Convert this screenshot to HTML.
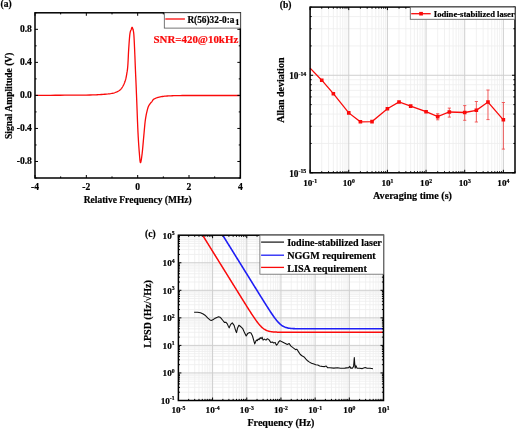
<!DOCTYPE html><html><head><meta charset="utf-8"><style>html,body{margin:0;padding:0;background:#fff;overflow:hidden}svg{display:block}text{stroke:#000;stroke-width:0.2px}</style></head><body><svg width="516" height="429" viewBox="0 0 516 429">
<rect width="516" height="429" fill="#fff"/>
<path d="M35.5,95.3 L38.1,95.3 L41.65,95.29 L45.88,95.29 L50.52,95.28 L55.31,95.27 L60,95.25 L64.92,95.22 L70.34,95.19 L75.92,95.15 L81.3,95.1 L86.11,95.05 L90,95 L92.79,94.95 L94.74,94.89 L96.12,94.83 L97.22,94.77 L98.32,94.69 L99.7,94.6 L101.36,94.5 L103.08,94.38 L104.79,94.26 L106.46,94.12 L108.01,93.97 L109.4,93.8 L110.6,93.63 L111.66,93.45 L112.61,93.26 L113.49,93.04 L114.34,92.79 L115.2,92.5 L116.08,92.17 L116.94,91.8 L117.78,91.41 L118.58,90.97 L119.32,90.51 L120,90 L120.6,89.47 L121.12,88.91 L121.59,88.31 L122.03,87.67 L122.46,86.97 L122.9,86.2 L123.35,85.35 L123.8,84.42 L124.24,83.43 L124.66,82.4 L125.05,81.35 L125.4,80.3 L125.7,79.24 L125.96,78.17 L126.19,77.07 L126.4,75.94 L126.6,74.79 L126.8,73.6 L126.99,72.47 L127.17,71.41 L127.33,70.32 L127.49,69.1 L127.64,67.63 L127.8,65.8 L127.95,63.51 L128.1,60.83 L128.24,57.91 L128.38,54.88 L128.53,51.89 L128.7,49.1 L128.88,46.37 L129.07,43.56 L129.27,40.8 L129.47,38.2 L129.68,35.9 L129.9,34 L130.13,32.58 L130.37,31.56 L130.62,30.83 L130.87,30.28 L131.1,29.81 L131.3,29.3 L131.47,28.76 L131.61,28.29 L131.74,27.88 L131.86,27.57 L131.97,27.37 L132.1,27.3 L132.23,27.37 L132.36,27.57 L132.49,27.88 L132.63,28.29 L132.76,28.76 L132.9,29.3 L133.05,29.81 L133.2,30.28 L133.35,30.83 L133.5,31.56 L133.65,32.58 L133.8,34 L133.94,35.86 L134.07,38.09 L134.21,40.6 L134.34,43.33 L134.47,46.19 L134.6,49.1 L134.73,52.18 L134.87,55.52 L135.01,58.99 L135.14,62.48 L135.27,65.85 L135.4,69 L135.52,71.9 L135.64,74.66 L135.76,77.31 L135.88,79.89 L135.99,82.44 L136.1,85 L136.2,87.35 L136.28,89.42 L136.36,91.46 L136.45,93.73 L136.56,96.49 L136.7,100 L136.87,104.55 L137.08,109.99 L137.3,115.91 L137.53,121.93 L137.77,127.62 L138,132.6 L138.23,136.94 L138.47,140.97 L138.71,144.69 L138.95,148.07 L139.18,151.12 L139.4,153.8 L139.59,156.19 L139.77,158.3 L139.94,160.08 L140.11,161.43 L140.29,162.3 L140.5,162.6 L140.74,162.26 L140.99,161.31 L141.26,159.87 L141.54,158.06 L141.82,156 L142.1,153.8 L142.38,151.32 L142.66,148.45 L142.95,145.32 L143.24,142.09 L143.52,138.9 L143.8,135.9 L144.06,133.03 L144.31,130.17 L144.56,127.34 L144.81,124.61 L145.09,122.01 L145.4,119.6 L145.76,117.33 L146.15,115.17 L146.56,113.15 L146.99,111.29 L147.4,109.63 L147.8,108.2 L148.18,107.05 L148.56,106.17 L148.93,105.48 L149.3,104.92 L149.65,104.42 L150,103.9 L150.33,103.4 L150.65,102.99 L150.96,102.64 L151.27,102.31 L151.58,101.97 L151.9,101.6 L152.19,101.19 L152.44,100.76 L152.69,100.33 L152.99,99.9 L153.37,99.49 L153.9,99.1 L154.57,98.73 L155.37,98.36 L156.25,98.01 L157.2,97.67 L158.19,97.37 L159.2,97.1 L160.23,96.87 L161.32,96.67 L162.44,96.5 L163.6,96.35 L164.79,96.22 L166,96.1 L167.2,96 L168.4,95.91 L169.63,95.85 L170.91,95.8 L172.29,95.75 L173.8,95.7 L175.31,95.65 L176.77,95.61 L178.33,95.58 L180.12,95.54 L182.3,95.52 L185,95.5 L188.32,95.49 L192.14,95.49 L196.36,95.49 L200.82,95.49 L205.41,95.5 L210,95.5 L215,95.5 L220.59,95.5 L226.31,95.5 L231.69,95.5 L236.24,95.5 L239.5,95.5" fill="none" stroke="#fa0a0a" stroke-width="1.3" stroke-linejoin="round"/>
<path d="M35,178v-3.0M35,12.8v3.0M60.67,178v-1.6M60.67,12.8v1.6M86.34,178v-3.0M86.34,12.8v3.0M112.01,178v-1.6M112.01,12.8v1.6M137.68,178v-3.0M137.68,12.8v3.0M163.34,178v-1.6M163.34,12.8v1.6M189.01,178v-3.0M189.01,12.8v3.0M214.68,178v-1.6M214.68,12.8v1.6M240.35,178v-3.0M240.35,12.8v3.0M35,178h1.6M240.35,178h-1.6M35,161.48h3.0M240.35,161.48h-3.0M35,144.96h1.6M240.35,144.96h-1.6M35,128.44h3.0M240.35,128.44h-3.0M35,111.92h1.6M240.35,111.92h-1.6M35,95.4h3.0M240.35,95.4h-3.0M35,78.88h1.6M240.35,78.88h-1.6M35,62.36h3.0M240.35,62.36h-3.0M35,45.84h1.6M240.35,45.84h-1.6M35,29.32h3.0M240.35,29.32h-3.0M35,12.8h1.6M240.35,12.8h-1.6" stroke="#000" stroke-width="1.0" fill="none"/>
<rect x="35" y="12.8" width="205.35" height="165.2" fill="none" stroke="#000" stroke-width="1.5"/>
<g font-family='"Liberation Serif", "Times New Roman", serif' font-weight="bold">
<text x="35" y="189.7" font-size="9.6" text-anchor="middle" fill="#000" >-4</text>
<text x="86.34" y="189.7" font-size="9.6" text-anchor="middle" fill="#000" >-2</text>
<text x="137.68" y="189.7" font-size="9.6" text-anchor="middle" fill="#000" >0</text>
<text x="189.01" y="189.7" font-size="9.6" text-anchor="middle" fill="#000" >2</text>
<text x="240.35" y="189.7" font-size="9.6" text-anchor="middle" fill="#000" >4</text>
<text x="31.9" y="32.32" font-size="9.6" text-anchor="end" fill="#000" >0.8</text>
<text x="31.9" y="65.36" font-size="9.6" text-anchor="end" fill="#000" >0.4</text>
<text x="31.9" y="98.4" font-size="9.6" text-anchor="end" fill="#000" >0.0</text>
<text x="31.9" y="131.44" font-size="9.6" text-anchor="end" fill="#000" >-0.4</text>
<text x="31.9" y="164.48" font-size="9.6" text-anchor="end" fill="#000" >-0.8</text>
<text x="137.7" y="203.3" font-size="9.5" text-anchor="middle" fill="#000" >Relative Frequency (MHz)</text>
<text transform="translate(12,95.8) rotate(-90)" font-size="9.55" text-anchor="middle">Signal Amplitude (V)</text>
<text x="0.6" y="7.2" font-size="9.5" text-anchor="start" fill="#000" >(a)</text>
</g>
<rect x="164.3" y="12.8" width="76.04999999999998" height="15.3" fill="#fff" stroke="#555" stroke-width="0.8"/>
<path d="M165.3,19.0H184.9" stroke="#fa0a0a" stroke-width="1.3"/>
<g font-family='"Liberation Serif", "Times New Roman", serif' font-weight="bold">
<text x="187.4" y="22.5" font-size="9.3">R(56)32-0:a<tspan font-size="8.3" dx="0.8" dy="2.2">1</tspan></text>
<text x="153.5" y="43" font-size="10.9" text-anchor="start" fill="#fa0a0a" style="stroke:#fa0a0a" >SNR=420@10kHz</text>
</g>
<path d="M321.74,7.1V172.8M328.54,7.1V172.8M333.37,7.1V172.8M337.12,7.1V172.8M340.18,7.1V172.8M342.77,7.1V172.8M345.01,7.1V172.8M346.98,7.1V172.8M360.39,7.1V172.8M367.19,7.1V172.8M372.02,7.1V172.8M375.77,7.1V172.8M378.83,7.1V172.8M381.42,7.1V172.8M383.66,7.1V172.8M385.64,7.1V172.8M399.04,7.1V172.8M405.85,7.1V172.8M410.68,7.1V172.8M414.42,7.1V172.8M417.48,7.1V172.8M420.07,7.1V172.8M422.31,7.1V172.8M424.29,7.1V172.8M437.69,7.1V172.8M444.5,7.1V172.8M449.33,7.1V172.8M453.08,7.1V172.8M456.14,7.1V172.8M458.72,7.1V172.8M460.97,7.1V172.8M462.94,7.1V172.8M476.35,7.1V172.8M483.15,7.1V172.8M487.98,7.1V172.8M491.73,7.1V172.8M494.79,7.1V172.8M497.38,7.1V172.8M499.62,7.1V172.8M501.6,7.1V172.8M310.1,143.44H515M310.1,126.27H515M310.1,114.08H515M310.1,104.63H515M310.1,96.91H515M310.1,90.38H515M310.1,84.72H515M310.1,79.73H515M310.1,45.91H515M310.1,28.74H515M310.1,16.55H515" stroke="#ededed" stroke-width="0.8" fill="none"/>
<path d="M348.75,7.1V172.8M387.41,7.1V172.8M426.06,7.1V172.8M464.71,7.1V172.8M503.36,7.1V172.8M310.1,75.27H515" stroke="#cfcfcf" stroke-width="1" fill="none"/>
<path d="M437.69,113.7V119.8M436.09,113.7h3.2M436.09,119.8h3.2M449.33,108.1V117.1M447.73,108.1h3.2M447.73,117.1h3.2M464.71,105.6V120.3M463.11,105.6h3.2M463.11,120.3h3.2M476.35,101.5V122M474.75,101.5h3.2M474.75,122h3.2M487.98,90V119.6M486.38,90h3.2M486.38,119.6h3.2M503.36,102.5V149.1M501.76,102.5h3.2M501.76,149.1h3.2" stroke="#f23c3c" stroke-width="0.8" fill="none"/>
<path d="M310.1,68.1 L321.74,80.2 L333.37,93.7 L348.75,112.9 L360.39,121.8 L372.02,121.6 L387.41,108.8 L399.04,102 L410.68,106.1 L426.06,111.7 L437.69,116.6 L449.33,112 L464.71,112.5 L476.35,110.3 L487.98,102 L503.36,119.8" stroke="#fa0a0a" stroke-width="1.3" fill="none"/>
<path d="M319.94,78.4h3.6v3.6h-3.6zM331.57,91.9h3.6v3.6h-3.6zM346.95,111.1h3.6v3.6h-3.6zM358.59,120h3.6v3.6h-3.6zM370.22,119.8h3.6v3.6h-3.6zM385.61,107h3.6v3.6h-3.6zM397.24,100.2h3.6v3.6h-3.6zM408.88,104.3h3.6v3.6h-3.6zM424.26,109.9h3.6v3.6h-3.6zM435.89,114.8h3.6v3.6h-3.6zM447.53,110.2h3.6v3.6h-3.6zM462.91,110.7h3.6v3.6h-3.6zM474.55,108.5h3.6v3.6h-3.6zM486.18,100.2h3.6v3.6h-3.6zM501.56,118h3.6v3.6h-3.6z" fill="#fa0a0a"/>
<path d="M310.1,172.8v-3.0M310.1,7.1v3.0M321.74,172.8v-1.6M321.74,7.1v1.6M328.54,172.8v-1.6M328.54,7.1v1.6M333.37,172.8v-1.6M333.37,7.1v1.6M337.12,172.8v-1.6M337.12,7.1v1.6M340.18,172.8v-1.6M340.18,7.1v1.6M342.77,172.8v-1.6M342.77,7.1v1.6M345.01,172.8v-1.6M345.01,7.1v1.6M346.98,172.8v-1.6M346.98,7.1v1.6M348.75,172.8v-3.0M348.75,7.1v3.0M360.39,172.8v-1.6M360.39,7.1v1.6M367.19,172.8v-1.6M367.19,7.1v1.6M372.02,172.8v-1.6M372.02,7.1v1.6M375.77,172.8v-1.6M375.77,7.1v1.6M378.83,172.8v-1.6M378.83,7.1v1.6M381.42,172.8v-1.6M381.42,7.1v1.6M383.66,172.8v-1.6M383.66,7.1v1.6M385.64,172.8v-1.6M385.64,7.1v1.6M387.41,172.8v-3.0M387.41,7.1v3.0M399.04,172.8v-1.6M399.04,7.1v1.6M405.85,172.8v-1.6M405.85,7.1v1.6M410.68,172.8v-1.6M410.68,7.1v1.6M414.42,172.8v-1.6M414.42,7.1v1.6M417.48,172.8v-1.6M417.48,7.1v1.6M420.07,172.8v-1.6M420.07,7.1v1.6M422.31,172.8v-1.6M422.31,7.1v1.6M424.29,172.8v-1.6M424.29,7.1v1.6M426.06,172.8v-3.0M426.06,7.1v3.0M437.69,172.8v-1.6M437.69,7.1v1.6M444.5,172.8v-1.6M444.5,7.1v1.6M449.33,172.8v-1.6M449.33,7.1v1.6M453.08,172.8v-1.6M453.08,7.1v1.6M456.14,172.8v-1.6M456.14,7.1v1.6M458.72,172.8v-1.6M458.72,7.1v1.6M460.97,172.8v-1.6M460.97,7.1v1.6M462.94,172.8v-1.6M462.94,7.1v1.6M464.71,172.8v-3.0M464.71,7.1v3.0M476.35,172.8v-1.6M476.35,7.1v1.6M483.15,172.8v-1.6M483.15,7.1v1.6M487.98,172.8v-1.6M487.98,7.1v1.6M491.73,172.8v-1.6M491.73,7.1v1.6M494.79,172.8v-1.6M494.79,7.1v1.6M497.38,172.8v-1.6M497.38,7.1v1.6M499.62,172.8v-1.6M499.62,7.1v1.6M501.6,172.8v-1.6M501.6,7.1v1.6M503.36,172.8v-3.0M503.36,7.1v3.0M515,172.8v-1.6M515,7.1v1.6M310.1,172.8h3.0M515,172.8h-3.0M310.1,143.44h1.6M515,143.44h-1.6M310.1,126.27h1.6M515,126.27h-1.6M310.1,114.08h1.6M515,114.08h-1.6M310.1,104.63h1.6M515,104.63h-1.6M310.1,96.91h1.6M515,96.91h-1.6M310.1,90.38h1.6M515,90.38h-1.6M310.1,84.72h1.6M515,84.72h-1.6M310.1,79.73h1.6M515,79.73h-1.6M310.1,75.27h3.0M515,75.27h-3.0M310.1,45.91h1.6M515,45.91h-1.6M310.1,28.74h1.6M515,28.74h-1.6M310.1,16.55h1.6M515,16.55h-1.6M310.1,7.1h1.6M515,7.1h-1.6" stroke="#000" stroke-width="1.0" fill="none"/>
<rect x="310.1" y="7.1" width="204.89999999999998" height="165.70000000000002" fill="none" stroke="#000" stroke-width="1.5"/>
<rect x="410.3" y="7.1" width="104.69999999999999" height="12.200000000000001" fill="#fff" stroke="#666" stroke-width="0.9"/>
<path d="M411.2,13.7H430.7" stroke="#fa0a0a" stroke-width="1.3"/><rect x="419.2" y="11.9" width="3.7" height="3.6" fill="#fa0a0a"/>
<g font-family='"Liberation Serif", "Times New Roman", serif' font-weight="bold">
<text x="433.8" y="16.6" font-size="8.6" text-anchor="start" fill="#000" >Iodine-stabilized laser</text>
<text x="310.1" y="185.7" font-size="9.2" text-anchor="middle">10<tspan font-size="5.7" dy="-3.2">-1</tspan></text>
<text x="348.75" y="185.7" font-size="9.2" text-anchor="middle">10<tspan font-size="5.7" dy="-3.2">0</tspan></text>
<text x="387.41" y="185.7" font-size="9.2" text-anchor="middle">10<tspan font-size="5.7" dy="-3.2">1</tspan></text>
<text x="426.06" y="185.7" font-size="9.2" text-anchor="middle">10<tspan font-size="5.7" dy="-3.2">2</tspan></text>
<text x="464.71" y="185.7" font-size="9.2" text-anchor="middle">10<tspan font-size="5.7" dy="-3.2">3</tspan></text>
<text x="503.36" y="185.7" font-size="9.2" text-anchor="middle">10<tspan font-size="5.7" dy="-3.2">4</tspan></text>
<text x="306.2" y="79.45" font-size="9.3" text-anchor="end">10<tspan font-size="5.8" dy="-3.9">-14</tspan></text>
<text x="306.2" y="176.9" font-size="9.3" text-anchor="end">10<tspan font-size="5.8" dy="-3.9">-15</tspan></text>
<text x="412.5" y="198.6" font-size="10.1" text-anchor="middle" fill="#000" >Averaging time (s)</text>
<text transform="translate(284.2,90.2) rotate(-90)" font-size="10" text-anchor="middle">Allan deviation</text>
<text x="279.8" y="8.2" font-size="9.5" text-anchor="start" fill="#000" >(b)</text>
</g>
<path d="M188.69,235.2V400.5M194.71,235.2V400.5M198.98,235.2V400.5M202.29,235.2V400.5M205,235.2V400.5M207.29,235.2V400.5M209.27,235.2V400.5M211.02,235.2V400.5M222.87,235.2V400.5M228.89,235.2V400.5M233.16,235.2V400.5M236.48,235.2V400.5M239.18,235.2V400.5M241.47,235.2V400.5M243.45,235.2V400.5M245.2,235.2V400.5M257.06,235.2V400.5M263.08,235.2V400.5M267.35,235.2V400.5M270.66,235.2V400.5M273.37,235.2V400.5M275.65,235.2V400.5M277.64,235.2V400.5M279.39,235.2V400.5M291.24,235.2V400.5M297.26,235.2V400.5M301.53,235.2V400.5M304.84,235.2V400.5M307.55,235.2V400.5M309.84,235.2V400.5M311.82,235.2V400.5M313.57,235.2V400.5M325.42,235.2V400.5M331.44,235.2V400.5M335.71,235.2V400.5M339.03,235.2V400.5M341.73,235.2V400.5M344.02,235.2V400.5M346,235.2V400.5M347.75,235.2V400.5M359.61,235.2V400.5M365.63,235.2V400.5M369.9,235.2V400.5M373.21,235.2V400.5M375.92,235.2V400.5M378.2,235.2V400.5M380.19,235.2V400.5M381.94,235.2V400.5M178.4,392.21H383.5M178.4,387.36H383.5M178.4,383.91H383.5M178.4,381.24H383.5M178.4,379.06H383.5M178.4,377.22H383.5M178.4,375.62H383.5M178.4,374.21H383.5M178.4,364.66H383.5M178.4,359.81H383.5M178.4,356.36H383.5M178.4,353.69H383.5M178.4,351.51H383.5M178.4,349.67H383.5M178.4,348.07H383.5M178.4,346.66H383.5M178.4,337.11H383.5M178.4,332.26H383.5M178.4,328.81H383.5M178.4,326.14H383.5M178.4,323.96H383.5M178.4,322.12H383.5M178.4,320.52H383.5M178.4,319.11H383.5M178.4,309.56H383.5M178.4,304.71H383.5M178.4,301.26H383.5M178.4,298.59H383.5M178.4,296.41H383.5M178.4,294.57H383.5M178.4,292.97H383.5M178.4,291.56H383.5M178.4,282.01H383.5M178.4,277.16H383.5M178.4,273.71H383.5M178.4,271.04H383.5M178.4,268.86H383.5M178.4,267.02H383.5M178.4,265.42H383.5M178.4,264.01H383.5M178.4,254.46H383.5M178.4,249.61H383.5M178.4,246.16H383.5M178.4,243.49H383.5M178.4,241.31H383.5M178.4,239.47H383.5M178.4,237.87H383.5M178.4,236.46H383.5" stroke="#ededed" stroke-width="0.8" fill="none"/>
<path d="M212.58,235.2V400.5M246.77,235.2V400.5M280.95,235.2V400.5M315.13,235.2V400.5M349.32,235.2V400.5M178.4,372.95H383.5M178.4,345.4H383.5M178.4,317.85H383.5M178.4,290.3H383.5M178.4,262.75H383.5" stroke="#cfcfcf" stroke-width="1" fill="none"/>
<path d="M194.1,312.2 L197.5,312.3 L200.5,312.7 L203.2,314 L205,315.2 L207.9,318.1 L210,319.9 L211.3,320.4 L212.8,319.8 L214.7,318.6 L216.8,317.4 L218.6,316.8 L220,317.3 L221,318.1 L222.9,320.5 L224.4,322.4 L225.8,322.2 L227.3,323.9 L228.4,326.4 L229.2,327.8 L230.1,325.6 L230.7,324.4 L232.3,322.9 L234.1,325.3 L235.5,330.2 L236.5,332.6 L237.5,328.3 L238.9,325.3 L240.9,326.8 L242.8,328.7 L244.7,333.1 L246.2,336 L247.6,333.6 L249.6,332.6 L251,333.1 L252.5,336 L253.6,339.8 L254.7,343.9 L255.3,342.5 L256.3,340.1 L257.3,340.6 L258.2,339.1 L259.2,339.6 L260.2,337.7 L261.1,338.7 L262.1,337.2 L263.1,340.1 L264.5,339.1 L266,340.1 L267.4,338.7 L268.9,339.6 L269.9,341.1 L270.8,342.5 L272.3,342 L273.7,343 L275.2,342.5 L276.1,344.6 L276.6,345.2 L277.6,344 L278.6,342 L280,340.6 L281.5,341.6 L283.4,342.5 L285.4,343.5 L287.3,344.5 L289.2,343.5 L290.7,345.9 L292.6,347.4 L294.6,348.9 L295.5,349.6 L296.9,349.2 L298.4,351.6 L300.3,354.5 L302.3,356 L304.2,357 L305.7,358.9 L307.6,360.8 L309.5,362.1 L311.5,363.3 L313.9,364 L315.8,364.7 L317.8,365 L319.7,366 L322.1,366.4 L324.6,366.6 L326.2,366 L327.5,367.6 L329.9,367.8 L333.8,368.1 L337.6,367.8 L340.5,368.3 L344.8,368.1 L348.7,367.6 L349.7,366.4 L350.7,368.1 L352.6,368.1 L353.6,366.2 L354.3,357.6 L354.7,363.3 L355.2,368.1 L356,365.7 L357,368.1 L359.4,368.3 L362.3,368.6 L365.2,367.6 L367.1,368.3 L370,368.3 L373,368.7" stroke="#111" stroke-width="1.1" fill="none" stroke-linejoin="round"/>
<path d="M203.07,235.94 L203.59,236.77 L204.1,237.6 L204.62,238.43 L205.13,239.25 L205.64,240.08 L206.16,240.91 L206.67,241.74 L207.19,242.57 L207.7,243.4 L208.21,244.23 L208.73,245.05 L209.24,245.88 L209.76,246.71 L210.27,247.54 L210.78,248.37 L211.3,249.2 L211.81,250.03 L212.33,250.85 L212.84,251.68 L213.35,252.51 L213.87,253.34 L214.38,254.17 L214.9,255 L215.41,255.83 L215.92,256.65 L216.44,257.48 L216.95,258.31 L217.47,259.14 L217.98,259.97 L218.49,260.8 L219.01,261.63 L219.52,262.45 L220.04,263.28 L220.55,264.11 L221.06,264.94 L221.58,265.77 L222.09,266.6 L222.61,267.43 L223.12,268.25 L223.64,269.08 L224.15,269.91 L224.66,270.74 L225.18,271.57 L225.69,272.4 L226.21,273.22 L226.72,274.05 L227.23,274.88 L227.75,275.71 L228.26,276.54 L228.78,277.37 L229.29,278.2 L229.8,279.02 L230.32,279.85 L230.83,280.68 L231.35,281.51 L231.86,282.34 L232.37,283.17 L232.89,283.99 L233.4,284.82 L233.92,285.65 L234.43,286.48 L234.94,287.31 L235.46,288.14 L235.97,288.96 L236.49,289.79 L237,290.62 L237.51,291.45 L238.03,292.27 L238.54,293.1 L239.06,293.93 L239.57,294.76 L240.08,295.58 L240.6,296.41 L241.11,297.24 L241.63,298.06 L242.14,298.89 L242.65,299.71 L243.17,300.54 L243.68,301.36 L244.2,302.19 L244.71,303.01 L245.22,303.83 L245.74,304.65 L246.25,305.47 L246.77,306.29 L247.28,307.11 L247.79,307.92 L248.31,308.74 L248.82,309.55 L249.34,310.36 L249.85,311.16 L250.36,311.96 L250.88,312.76 L251.39,313.56 L251.91,314.35 L252.42,315.13 L252.94,315.91 L253.45,316.68 L253.96,317.44 L254.48,318.2 L254.99,318.94 L255.51,319.67 L256.02,320.4 L256.53,321.1 L257.05,321.8 L257.56,322.47 L258.08,323.13 L258.59,323.77 L259.1,324.38 L259.62,324.98 L260.13,325.55 L260.65,326.1 L261.16,326.62 L261.67,327.11 L262.19,327.57 L262.7,328.01 L263.22,328.41 L263.73,328.79 L264.24,329.14 L264.76,329.46 L265.27,329.76 L265.79,330.03 L266.3,330.28 L266.81,330.5 L267.33,330.7 L267.84,330.88 L268.36,331.04 L268.87,331.18 L269.38,331.31 L269.9,331.43 L270.41,331.53 L270.93,331.62 L271.44,331.69 L271.95,331.76 L272.47,331.83 L272.98,331.88 L273.5,331.93 L274.01,331.97 L274.52,332 L275.04,332.04 L275.55,332.06 L276.07,332.09 L276.58,332.11 L277.09,332.13 L277.61,332.14 L278.12,332.16 L278.64,332.17 L279.15,332.18 L279.66,332.19 L280.18,332.2 L280.69,332.21 L281.21,332.21 L281.72,332.22 L282.24,332.22 L282.75,332.23 L283.26,332.23 L283.78,332.23 L284.29,332.24 L284.81,332.24 L285.32,332.24 L285.83,332.24 L286.35,332.24 L286.86,332.25 L287.38,332.25 L287.89,332.25 L288.4,332.25 L288.92,332.25 L289.43,332.25 L289.95,332.25 L290.46,332.25 L290.97,332.25 L291.49,332.25 L292,332.25 L292.52,332.25 L293.03,332.25 L293.54,332.25 L294.06,332.25 L294.57,332.25 L295.09,332.25 L295.6,332.25 L296.11,332.25 L296.63,332.25 L297.14,332.25 L297.66,332.25 L298.17,332.25 L298.68,332.25 L299.2,332.25 L299.71,332.26 L300.23,332.26 L300.74,332.26 L301.25,332.26 L301.77,332.26 L302.28,332.26 L302.8,332.26 L303.31,332.26 L303.82,332.26 L304.34,332.26 L304.85,332.26 L305.37,332.26 L305.88,332.26 L306.39,332.26 L306.91,332.26 L307.42,332.26 L307.94,332.26 L308.45,332.26 L308.96,332.26 L309.48,332.26 L309.99,332.26 L310.51,332.26 L311.02,332.26 L311.54,332.26 L312.05,332.26 L312.56,332.26 L313.08,332.26 L313.59,332.26 L314.11,332.26 L314.62,332.26 L315.13,332.26 L315.65,332.26 L316.16,332.26 L316.68,332.26 L317.19,332.26 L317.7,332.26 L318.22,332.26 L318.73,332.26 L319.25,332.26 L319.76,332.26 L320.27,332.26 L320.79,332.26 L321.3,332.26 L321.82,332.26 L322.33,332.26 L322.84,332.26 L323.36,332.26 L323.87,332.26 L324.39,332.26 L324.9,332.26 L325.41,332.26 L325.93,332.26 L326.44,332.26 L326.96,332.26 L327.47,332.26 L327.98,332.26 L328.5,332.26 L329.01,332.26 L329.53,332.26 L330.04,332.26 L330.55,332.26 L331.07,332.26 L331.58,332.26 L332.1,332.26 L332.61,332.26 L333.12,332.26 L333.64,332.26 L334.15,332.26 L334.67,332.26 L335.18,332.26 L335.69,332.26 L336.21,332.26 L336.72,332.26 L337.24,332.26 L337.75,332.26 L338.26,332.26 L338.78,332.26 L339.29,332.26 L339.81,332.26 L340.32,332.26 L340.84,332.26 L341.35,332.26 L341.86,332.26 L342.38,332.26 L342.89,332.26 L343.41,332.26 L343.92,332.26 L344.43,332.26 L344.95,332.26 L345.46,332.26 L345.98,332.26 L346.49,332.26 L347,332.26 L347.52,332.26 L348.03,332.26 L348.55,332.26 L349.06,332.26 L349.57,332.26 L350.09,332.26 L350.6,332.26 L351.12,332.26 L351.63,332.26 L352.14,332.26 L352.66,332.26 L353.17,332.26 L353.69,332.26 L354.2,332.26 L354.71,332.26 L355.23,332.26 L355.74,332.26 L356.26,332.26 L356.77,332.26 L357.28,332.26 L357.8,332.26 L358.31,332.26 L358.83,332.26 L359.34,332.26 L359.85,332.26 L360.37,332.26 L360.88,332.26 L361.4,332.26 L361.91,332.26 L362.42,332.26 L362.94,332.26 L363.45,332.26 L363.97,332.26 L364.48,332.26 L364.99,332.26 L365.51,332.26 L366.02,332.26 L366.54,332.26 L367.05,332.26 L367.56,332.26 L368.08,332.26 L368.59,332.26 L369.11,332.26 L369.62,332.26 L370.14,332.26 L370.65,332.26 L371.16,332.26 L371.68,332.26 L372.19,332.26 L372.71,332.26 L373.22,332.26 L373.73,332.26 L374.25,332.26 L374.76,332.26 L375.28,332.26 L375.79,332.26 L376.3,332.26 L376.82,332.26 L377.33,332.26 L377.85,332.26 L378.36,332.26 L378.87,332.26 L379.39,332.26 L379.9,332.26 L380.42,332.26 L380.93,332.26 L381.44,332.26 L381.96,332.26 L382.47,332.26 L382.99,332.26 L383.5,332.26" stroke="#fa0a0a" stroke-width="1.5" fill="none"/>
<path d="M223.12,235.84 L223.64,236.67 L224.15,237.5 L224.66,238.33 L225.18,239.15 L225.69,239.98 L226.21,240.81 L226.72,241.64 L227.23,242.47 L227.75,243.3 L228.26,244.13 L228.78,244.95 L229.29,245.78 L229.8,246.61 L230.32,247.44 L230.83,248.27 L231.35,249.1 L231.86,249.93 L232.37,250.75 L232.89,251.58 L233.4,252.41 L233.92,253.24 L234.43,254.07 L234.94,254.9 L235.46,255.73 L235.97,256.55 L236.49,257.38 L237,258.21 L237.51,259.04 L238.03,259.87 L238.54,260.7 L239.06,261.53 L239.57,262.35 L240.08,263.18 L240.6,264.01 L241.11,264.84 L241.63,265.67 L242.14,266.5 L242.65,267.32 L243.17,268.15 L243.68,268.98 L244.2,269.81 L244.71,270.64 L245.22,271.47 L245.74,272.3 L246.25,273.12 L246.77,273.95 L247.28,274.78 L247.79,275.61 L248.31,276.44 L248.82,277.27 L249.34,278.1 L249.85,278.92 L250.36,279.75 L250.88,280.58 L251.39,281.41 L251.91,282.24 L252.42,283.07 L252.94,283.89 L253.45,284.72 L253.96,285.55 L254.48,286.38 L254.99,287.21 L255.51,288.03 L256.02,288.86 L256.53,289.69 L257.05,290.52 L257.56,291.34 L258.08,292.17 L258.59,293 L259.1,293.82 L259.62,294.65 L260.13,295.47 L260.65,296.3 L261.16,297.12 L261.67,297.95 L262.19,298.77 L262.7,299.59 L263.22,300.42 L263.73,301.24 L264.24,302.06 L264.76,302.87 L265.27,303.69 L265.79,304.51 L266.3,305.32 L266.81,306.13 L267.33,306.94 L267.84,307.75 L268.36,308.55 L268.87,309.35 L269.38,310.14 L269.9,310.93 L270.41,311.71 L270.93,312.49 L271.44,313.26 L271.95,314.03 L272.47,314.78 L272.98,315.52 L273.5,316.26 L274.01,316.98 L274.52,317.68 L275.04,318.38 L275.55,319.05 L276.07,319.71 L276.58,320.35 L277.09,320.96 L277.61,321.56 L278.12,322.13 L278.64,322.67 L279.15,323.19 L279.66,323.68 L280.18,324.14 L280.69,324.58 L281.21,324.98 L281.72,325.36 L282.24,325.71 L282.75,326.03 L283.26,326.33 L283.78,326.6 L284.29,326.84 L284.81,327.06 L285.32,327.26 L285.83,327.44 L286.35,327.6 L286.86,327.75 L287.38,327.87 L287.89,327.99 L288.4,328.09 L288.92,328.18 L289.43,328.26 L289.95,328.32 L290.46,328.39 L290.97,328.44 L291.49,328.49 L292,328.53 L292.52,328.56 L293.03,328.6 L293.54,328.62 L294.06,328.65 L294.57,328.67 L295.09,328.69 L295.6,328.7 L296.11,328.72 L296.63,328.73 L297.14,328.74 L297.66,328.75 L298.17,328.76 L298.68,328.77 L299.2,328.77 L299.71,328.78 L300.23,328.78 L300.74,328.79 L301.25,328.79 L301.77,328.79 L302.28,328.79 L302.8,328.8 L303.31,328.8 L303.82,328.8 L304.34,328.8 L304.85,328.8 L305.37,328.81 L305.88,328.81 L306.39,328.81 L306.91,328.81 L307.42,328.81 L307.94,328.81 L308.45,328.81 L308.96,328.81 L309.48,328.81 L309.99,328.81 L310.51,328.81 L311.02,328.81 L311.54,328.81 L312.05,328.81 L312.56,328.81 L313.08,328.81 L313.59,328.81 L314.11,328.81 L314.62,328.81 L315.13,328.81 L315.65,328.81 L316.16,328.81 L316.68,328.81 L317.19,328.81 L317.7,328.81 L318.22,328.81 L318.73,328.81 L319.25,328.81 L319.76,328.81 L320.27,328.81 L320.79,328.81 L321.3,328.81 L321.82,328.81 L322.33,328.81 L322.84,328.81 L323.36,328.81 L323.87,328.81 L324.39,328.81 L324.9,328.81 L325.41,328.81 L325.93,328.81 L326.44,328.81 L326.96,328.81 L327.47,328.81 L327.98,328.81 L328.5,328.81 L329.01,328.81 L329.53,328.81 L330.04,328.81 L330.55,328.81 L331.07,328.81 L331.58,328.81 L332.1,328.81 L332.61,328.81 L333.12,328.81 L333.64,328.81 L334.15,328.81 L334.67,328.81 L335.18,328.81 L335.69,328.81 L336.21,328.81 L336.72,328.81 L337.24,328.81 L337.75,328.81 L338.26,328.81 L338.78,328.81 L339.29,328.81 L339.81,328.81 L340.32,328.81 L340.84,328.81 L341.35,328.81 L341.86,328.81 L342.38,328.81 L342.89,328.81 L343.41,328.81 L343.92,328.81 L344.43,328.81 L344.95,328.81 L345.46,328.81 L345.98,328.81 L346.49,328.81 L347,328.81 L347.52,328.81 L348.03,328.81 L348.55,328.81 L349.06,328.81 L349.57,328.81 L350.09,328.81 L350.6,328.81 L351.12,328.81 L351.63,328.81 L352.14,328.81 L352.66,328.81 L353.17,328.81 L353.69,328.81 L354.2,328.81 L354.71,328.81 L355.23,328.81 L355.74,328.81 L356.26,328.81 L356.77,328.81 L357.28,328.81 L357.8,328.81 L358.31,328.81 L358.83,328.81 L359.34,328.81 L359.85,328.81 L360.37,328.81 L360.88,328.81 L361.4,328.81 L361.91,328.81 L362.42,328.81 L362.94,328.81 L363.45,328.81 L363.97,328.81 L364.48,328.81 L364.99,328.81 L365.51,328.81 L366.02,328.81 L366.54,328.81 L367.05,328.81 L367.56,328.81 L368.08,328.81 L368.59,328.81 L369.11,328.81 L369.62,328.81 L370.14,328.81 L370.65,328.81 L371.16,328.81 L371.68,328.81 L372.19,328.81 L372.71,328.81 L373.22,328.81 L373.73,328.81 L374.25,328.81 L374.76,328.81 L375.28,328.81 L375.79,328.81 L376.3,328.81 L376.82,328.81 L377.33,328.81 L377.85,328.81 L378.36,328.81 L378.87,328.81 L379.39,328.81 L379.9,328.81 L380.42,328.81 L380.93,328.81 L381.44,328.81 L381.96,328.81 L382.47,328.81 L382.99,328.81 L383.5,328.81" stroke="#1e1ef5" stroke-width="1.6" fill="none"/>
<path d="M178.4,400.5v-3.0M178.4,235.2v3.0M188.69,400.5v-1.6M188.69,235.2v1.6M194.71,400.5v-1.6M194.71,235.2v1.6M198.98,400.5v-1.6M198.98,235.2v1.6M202.29,400.5v-1.6M202.29,235.2v1.6M205,400.5v-1.6M205,235.2v1.6M207.29,400.5v-1.6M207.29,235.2v1.6M209.27,400.5v-1.6M209.27,235.2v1.6M211.02,400.5v-1.6M211.02,235.2v1.6M212.58,400.5v-3.0M212.58,235.2v3.0M222.87,400.5v-1.6M222.87,235.2v1.6M228.89,400.5v-1.6M228.89,235.2v1.6M233.16,400.5v-1.6M233.16,235.2v1.6M236.48,400.5v-1.6M236.48,235.2v1.6M239.18,400.5v-1.6M239.18,235.2v1.6M241.47,400.5v-1.6M241.47,235.2v1.6M243.45,400.5v-1.6M243.45,235.2v1.6M245.2,400.5v-1.6M245.2,235.2v1.6M246.77,400.5v-3.0M246.77,235.2v3.0M257.06,400.5v-1.6M257.06,235.2v1.6M263.08,400.5v-1.6M263.08,235.2v1.6M267.35,400.5v-1.6M267.35,235.2v1.6M270.66,400.5v-1.6M270.66,235.2v1.6M273.37,400.5v-1.6M273.37,235.2v1.6M275.65,400.5v-1.6M275.65,235.2v1.6M277.64,400.5v-1.6M277.64,235.2v1.6M279.39,400.5v-1.6M279.39,235.2v1.6M280.95,400.5v-3.0M280.95,235.2v3.0M291.24,400.5v-1.6M291.24,235.2v1.6M297.26,400.5v-1.6M297.26,235.2v1.6M301.53,400.5v-1.6M301.53,235.2v1.6M304.84,400.5v-1.6M304.84,235.2v1.6M307.55,400.5v-1.6M307.55,235.2v1.6M309.84,400.5v-1.6M309.84,235.2v1.6M311.82,400.5v-1.6M311.82,235.2v1.6M313.57,400.5v-1.6M313.57,235.2v1.6M315.13,400.5v-3.0M315.13,235.2v3.0M325.42,400.5v-1.6M325.42,235.2v1.6M331.44,400.5v-1.6M331.44,235.2v1.6M335.71,400.5v-1.6M335.71,235.2v1.6M339.03,400.5v-1.6M339.03,235.2v1.6M341.73,400.5v-1.6M341.73,235.2v1.6M344.02,400.5v-1.6M344.02,235.2v1.6M346,400.5v-1.6M346,235.2v1.6M347.75,400.5v-1.6M347.75,235.2v1.6M349.32,400.5v-3.0M349.32,235.2v3.0M359.61,400.5v-1.6M359.61,235.2v1.6M365.63,400.5v-1.6M365.63,235.2v1.6M369.9,400.5v-1.6M369.9,235.2v1.6M373.21,400.5v-1.6M373.21,235.2v1.6M375.92,400.5v-1.6M375.92,235.2v1.6M378.2,400.5v-1.6M378.2,235.2v1.6M380.19,400.5v-1.6M380.19,235.2v1.6M381.94,400.5v-1.6M381.94,235.2v1.6M178.4,400.5h3.0M383.5,400.5h-3.0M178.4,392.21h1.6M383.5,392.21h-1.6M178.4,387.36h1.6M383.5,387.36h-1.6M178.4,383.91h1.6M383.5,383.91h-1.6M178.4,381.24h1.6M383.5,381.24h-1.6M178.4,379.06h1.6M383.5,379.06h-1.6M178.4,377.22h1.6M383.5,377.22h-1.6M178.4,375.62h1.6M383.5,375.62h-1.6M178.4,374.21h1.6M383.5,374.21h-1.6M178.4,372.95h3.0M383.5,372.95h-3.0M178.4,364.66h1.6M383.5,364.66h-1.6M178.4,359.81h1.6M383.5,359.81h-1.6M178.4,356.36h1.6M383.5,356.36h-1.6M178.4,353.69h1.6M383.5,353.69h-1.6M178.4,351.51h1.6M383.5,351.51h-1.6M178.4,349.67h1.6M383.5,349.67h-1.6M178.4,348.07h1.6M383.5,348.07h-1.6M178.4,346.66h1.6M383.5,346.66h-1.6M178.4,345.4h3.0M383.5,345.4h-3.0M178.4,337.11h1.6M383.5,337.11h-1.6M178.4,332.26h1.6M383.5,332.26h-1.6M178.4,328.81h1.6M383.5,328.81h-1.6M178.4,326.14h1.6M383.5,326.14h-1.6M178.4,323.96h1.6M383.5,323.96h-1.6M178.4,322.12h1.6M383.5,322.12h-1.6M178.4,320.52h1.6M383.5,320.52h-1.6M178.4,319.11h1.6M383.5,319.11h-1.6M178.4,317.85h3.0M383.5,317.85h-3.0M178.4,309.56h1.6M383.5,309.56h-1.6M178.4,304.71h1.6M383.5,304.71h-1.6M178.4,301.26h1.6M383.5,301.26h-1.6M178.4,298.59h1.6M383.5,298.59h-1.6M178.4,296.41h1.6M383.5,296.41h-1.6M178.4,294.57h1.6M383.5,294.57h-1.6M178.4,292.97h1.6M383.5,292.97h-1.6M178.4,291.56h1.6M383.5,291.56h-1.6M178.4,290.3h3.0M383.5,290.3h-3.0M178.4,282.01h1.6M383.5,282.01h-1.6M178.4,277.16h1.6M383.5,277.16h-1.6M178.4,273.71h1.6M383.5,273.71h-1.6M178.4,271.04h1.6M383.5,271.04h-1.6M178.4,268.86h1.6M383.5,268.86h-1.6M178.4,267.02h1.6M383.5,267.02h-1.6M178.4,265.42h1.6M383.5,265.42h-1.6M178.4,264.01h1.6M383.5,264.01h-1.6M178.4,262.75h3.0M383.5,262.75h-3.0M178.4,254.46h1.6M383.5,254.46h-1.6M178.4,249.61h1.6M383.5,249.61h-1.6M178.4,246.16h1.6M383.5,246.16h-1.6M178.4,243.49h1.6M383.5,243.49h-1.6M178.4,241.31h1.6M383.5,241.31h-1.6M178.4,239.47h1.6M383.5,239.47h-1.6M178.4,237.87h1.6M383.5,237.87h-1.6M178.4,236.46h1.6M383.5,236.46h-1.6" stroke="#000" stroke-width="1.0" fill="none"/>
<rect x="178.4" y="235.2" width="205.1" height="165.3" fill="none" stroke="#000" stroke-width="1.5"/>
<rect x="259.9" y="235.2" width="123.60000000000002" height="39.0" fill="#fff" stroke="#666" stroke-width="0.8"/>
<path d="M261.1,242.1H284" stroke="#111" stroke-width="1.2"/><path d="M261.1,255.2H284" stroke="#1e1ef5" stroke-width="1.3"/><path d="M261.1,267.4H284" stroke="#fa0a0a" stroke-width="1.3"/>
<g font-family='"Liberation Serif", "Times New Roman", serif' font-weight="bold">
<text x="287.2" y="246" font-size="10.05" text-anchor="start" fill="#000" >Iodine-stabilized laser</text>
<text x="287.2" y="259.4" font-size="10.1" text-anchor="start" fill="#000" >NGGM requirement</text>
<text x="287.2" y="271.8" font-size="10.2" text-anchor="start" fill="#000" >LISA requirement</text>
<text x="178.4" y="413" font-size="9.2" text-anchor="middle">10<tspan font-size="5.7" dy="-3.4">-5</tspan></text>
<text x="212.58" y="413" font-size="9.2" text-anchor="middle">10<tspan font-size="5.7" dy="-3.4">-4</tspan></text>
<text x="246.77" y="413" font-size="9.2" text-anchor="middle">10<tspan font-size="5.7" dy="-3.4">-3</tspan></text>
<text x="280.95" y="413" font-size="9.2" text-anchor="middle">10<tspan font-size="5.7" dy="-3.4">-2</tspan></text>
<text x="315.13" y="413" font-size="9.2" text-anchor="middle">10<tspan font-size="5.7" dy="-3.4">-1</tspan></text>
<text x="349.32" y="413" font-size="9.2" text-anchor="middle">10<tspan font-size="5.7" dy="-3.4">0</tspan></text>
<text x="383.5" y="413" font-size="9.2" text-anchor="middle">10<tspan font-size="5.7" dy="-3.4">1</tspan></text>
<text x="174.6" y="404" font-size="9.2" text-anchor="end">10<tspan font-size="5.7" dy="-3.7">-1</tspan></text>
<text x="174.6" y="376.45" font-size="9.2" text-anchor="end">10<tspan font-size="5.7" dy="-3.7">0</tspan></text>
<text x="174.6" y="348.9" font-size="9.2" text-anchor="end">10<tspan font-size="5.7" dy="-3.7">1</tspan></text>
<text x="174.6" y="321.35" font-size="9.2" text-anchor="end">10<tspan font-size="5.7" dy="-3.7">2</tspan></text>
<text x="174.6" y="293.8" font-size="9.2" text-anchor="end">10<tspan font-size="5.7" dy="-3.7">3</tspan></text>
<text x="174.6" y="266.25" font-size="9.2" text-anchor="end">10<tspan font-size="5.7" dy="-3.7">4</tspan></text>
<text x="174.6" y="238.7" font-size="9.2" text-anchor="end">10<tspan font-size="5.7" dy="-3.7">5</tspan></text>
<text x="280.9" y="426.1" font-size="10" text-anchor="middle" fill="#000" >Frequency (Hz)</text>
<text transform="translate(150.5,314.0) rotate(-90)" font-size="10" text-anchor="middle">LPSD (Hz/√Hz)</text>
<text x="145" y="237" font-size="9.5" text-anchor="start" fill="#000" >(c)</text>
</g>
</svg></body></html>
